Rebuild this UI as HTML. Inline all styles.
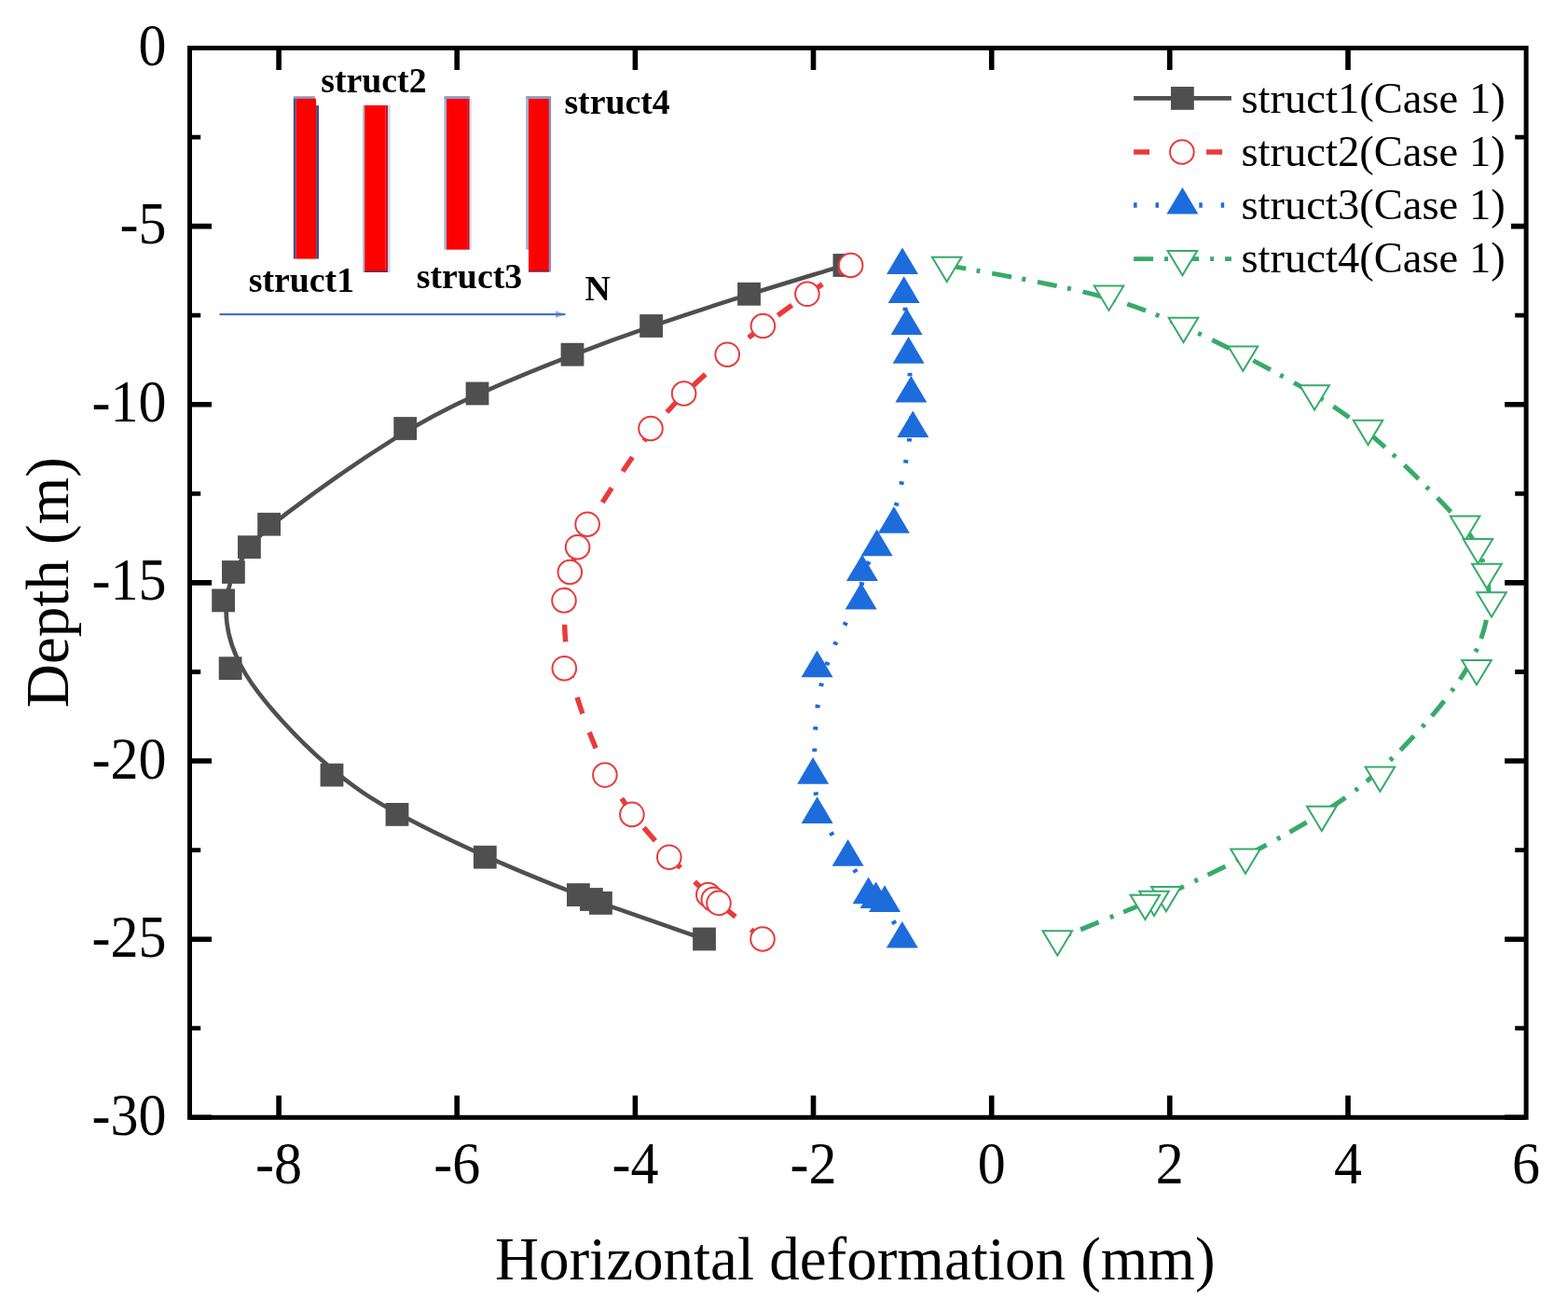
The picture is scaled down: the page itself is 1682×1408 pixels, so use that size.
<!DOCTYPE html><html><head><meta charset="utf-8"><title>Horizontal deformation vs depth</title><style>html,body{margin:0;padding:0;background:#fff}svg{display:block}text{font-family:"Liberation Serif","Times New Roman",serif}</style></head><body>
<svg width="1682" height="1408" viewBox="0 0 1682 1408">
<rect width="1682" height="1408" fill="#fff"/>
<g><rect x="314.8" y="103.2" width="23.2" height="2.8" fill="#8a9cc4"/><rect x="314.8" y="105.8" width="2.8" height="171.8" fill="#3c4f8c"/><rect x="317.5" y="105.8" width="21.6" height="171.8" fill="#ff0000"/><rect x="339.1" y="113.1" width="2.9" height="164.5" fill="#4a4a80"/><rect x="389.1" y="112.9" width="2.3" height="179" fill="#a8b8d8"/><rect x="391.2" y="112.9" width="22.5" height="179" fill="#ff0000"/><rect x="413.7" y="112.9" width="2.3" height="179" fill="#c81425"/><rect x="416" y="112.9" width="2.7" height="179" fill="#cdd6ea"/><rect x="391.2" y="289.9" width="24.8" height="2" fill="#8a2040"/><rect x="476.4" y="103.1" width="27.4" height="2.9" fill="#8a9cc4"/><rect x="476.4" y="106" width="2.6" height="161.7" fill="#9db0d4"/><rect x="479" y="106" width="22.1" height="161.7" fill="#ff0000"/><rect x="501.1" y="106" width="2.7" height="161.7" fill="#c81425"/><rect x="503.8" y="106" width="2.3" height="161.7" fill="#dde4f0"/><rect x="564.2" y="103.1" width="26.9" height="2.9" fill="#8a9cc4"/><rect x="564.2" y="106" width="2.8" height="161.7" fill="#9db0d4"/><rect x="567" y="106" width="21.9" height="185.5" fill="#ff0000"/><rect x="588.9" y="106" width="2.2" height="185.5" fill="#7f93c0"/><rect x="567" y="289.6" width="21.9" height="2" fill="#8a2040"/><rect x="235.5" y="336" width="371" height="2.2" fill="#4472c4"/><path d="M596 333.3L606 337.1L596 340.9Z" fill="#4472c4" opacity="0.55"/></g>
<text x="344.2" y="98.6" font-size="37.8" font-weight="bold" fill="#000">struct2</text>
<text x="605.4" y="121.8" font-size="37.8" font-weight="bold" fill="#000">struct4</text>
<text x="266.7" y="313.1" font-size="37.8" font-weight="bold" fill="#000">struct1</text>
<text x="446.8" y="308.9" font-size="37.8" font-weight="bold" fill="#000">struct3</text>
<text x="627.4" y="322" font-size="37.8" font-weight="bold" fill="#000">N</text>
<path d="M905.9 284.5C905.9 284.5 905.9 284.5 888.8 289.6C871.8 294.8 837.6 305 803.1 315.9C768.5 326.7 733.6 338.1 702 348.9C670.4 359.7 642.2 370 611.1 382.1C580 394.1 546 408.1 516.1 421.3C486.2 434.5 460.5 447 423.2 470.4C386 493.7 337.3 528 309.4 549.2C281.5 570.4 274.5 578.5 268.1 587.1C261.7 595.6 256.1 604.6 251.4 614.1C246.8 623.6 243.2 633.8 242.6 651C242.1 668.2 244.6 692.4 264 723.6C283.4 754.8 319.7 793 349.5 819.1C379.3 845.2 402.7 859.3 430.1 874C457.4 888.7 488.9 903.9 521.3 918.3C553.7 932.7 587 946.1 606 953.7C625.1 961.2 629.7 962.9 633.7 964.3C637.7 965.8 641.1 967.1 661.2 974.2C681.4 981.3 718.5 994.1 737 1000.6C755.5 1007 755.5 1007 755.5 1007" fill="none" stroke="#4f4f4f" stroke-width="4.6"/><g fill="#4f4f4f"><rect x="893.5" y="272.1" width="24.8" height="24.8"/><rect x="791.1" y="302.9" width="24.8" height="24.8"/><rect x="686.2" y="337.1" width="24.8" height="24.8"/><rect x="601.6" y="367.8" width="24.8" height="24.8"/><rect x="499.6" y="409.6" width="24.8" height="24.8"/><rect x="422.3" y="447.1" width="24.8" height="24.8"/><rect x="276.2" y="549.8" width="24.8" height="24.8"/><rect x="255" y="574.3" width="24.8" height="24.8"/><rect x="238" y="601.1" width="24.8" height="24.8"/><rect x="227.2" y="631.5" width="24.8" height="24.8"/><rect x="234.7" y="704.3" width="24.8" height="24.8"/><rect x="343.6" y="818.7" width="24.8" height="24.8"/><rect x="413.6" y="861" width="24.8" height="24.8"/><rect x="507.9" y="906.8" width="24.8" height="24.8"/><rect x="608" y="947.2" width="24.8" height="24.8"/><rect x="622" y="952.1" width="24.8" height="24.8"/><rect x="632" y="956" width="24.8" height="24.8"/><rect x="743.1" y="994.6" width="24.8" height="24.8"/></g>
<path d="M912.6 284.5C912.6 284.5 912.6 284.5 904.8 289.6C897 294.8 881.5 305 865.8 315.9C850.1 326.7 834.2 338.1 819.9 348.9C805.7 359.7 792.9 370 778.8 382.1C764.7 394.1 749.1 408.1 735.4 421.3C721.7 434.5 709.9 447 692.6 470.4C675.4 493.7 652.7 528 639.7 549.2C626.6 570.4 623.1 578.5 620 587.1C616.8 595.6 614.1 604.6 611.6 614.1C609.2 623.6 607.1 633.8 606.1 651C605.1 668.2 605.2 692.4 612.5 723.6C619.8 754.8 634.4 793 646.5 819.1C658.6 845.2 668.2 859.3 679.7 874C691.2 888.7 704.5 903.9 718.1 918.3C731.8 932.7 745.8 946.1 753.7 953.7C761.6 961.2 763.5 962.9 765.3 964.3C767.2 965.8 769.1 967.1 777.9 974.2C786.7 981.3 802.3 994.1 810.2 1000.6C818 1007 818 1007 818 1007" fill="none" stroke="#ea3a3c" stroke-width="5.5" stroke-dasharray="18.5 21.1" stroke-dashoffset="3"/><g fill="#fff" stroke="#ea3a3c" stroke-width="2"><circle cx="912.6" cy="284.5" r="12.8"/><circle cx="865.9" cy="315.3" r="12.8"/><circle cx="818.4" cy="349.5" r="12.8"/><circle cx="780.2" cy="380.2" r="12.8"/><circle cx="733.6" cy="422" r="12.8"/><circle cx="698" cy="459.5" r="12.8"/><circle cx="630.1" cy="562.2" r="12.8"/><circle cx="619.6" cy="586.7" r="12.8"/><circle cx="611.3" cy="613.5" r="12.8"/><circle cx="605" cy="643.9" r="12.8"/><circle cx="605.3" cy="716.7" r="12.8"/><circle cx="648.9" cy="831.1" r="12.8"/><circle cx="677.9" cy="873.4" r="12.8"/><circle cx="717.8" cy="919.2" r="12.8"/><circle cx="759.8" cy="959.6" r="12.8"/><circle cx="765.3" cy="964.5" r="12.8"/><circle cx="771" cy="968.4" r="12.8"/><circle cx="818" cy="1007" r="12.8"/></g>
<path d="M968 284.5C968 284.5 968 284.5 968.3 289.6C968.5 294.8 969.1 305 969.8 315.9C970.6 326.7 971.6 338.1 972.4 348.9C973.3 359.7 973.9 370 974.7 382.1C975.5 394.1 976.4 408.1 977.2 421.3C978 434.5 978.6 447 975.6 470.4C972.5 493.7 965.7 528 959.2 549.2C952.8 570.4 946.7 578.5 941 587.1C935.4 595.6 930.1 604.6 927.3 614.1C924.5 623.6 924 633.8 916 651C907.9 668.2 892.2 692.4 883.6 723.6C875 754.8 873.6 793 873.6 819.1C873.6 845.2 875.1 859.3 881.4 874C887.6 888.7 898.6 903.9 907.8 918.3C916.9 932.7 924.3 946.1 929.3 953.7C934.3 961.2 936.9 962.9 939.8 964.3C942.7 965.8 945.9 967.1 950.6 974.2C955.3 981.3 961.5 994.1 964.7 1000.6C967.8 1007 967.8 1007 967.8 1007" fill="none" stroke="#1d6cdc" stroke-width="5" stroke-dasharray="3.6 19.83" stroke-dashoffset="1.5"/><g fill="#1d6cdc"><path d="M968 265.4L985 294.1L951 294.1Z"/><path d="M969.6 296.2L986.6 324.9L952.6 324.9Z"/><path d="M972.6 330.4L989.6 359.1L955.6 359.1Z"/><path d="M974.6 361.1L991.6 389.8L957.6 389.8Z"/><path d="M977.3 402.9L994.3 431.6L960.3 431.6Z"/><path d="M979.3 440.4L996.3 469.1L962.3 469.1Z"/><path d="M958.9 543.1L975.9 571.8L941.9 571.8Z"/><path d="M940.6 567.6L957.6 596.3L923.6 596.3Z"/><path d="M924.9 594.4L941.9 623.1L907.9 623.1Z"/><path d="M923.6 624.8L940.6 653.5L906.6 653.5Z"/><path d="M876.5 697.6L893.5 726.3L859.5 726.3Z"/><path d="M872.1 812L889.1 840.7L855.1 840.7Z"/><path d="M876.6 854.3L893.6 883L859.6 883Z"/><path d="M909.6 900.1L926.6 928.8L892.6 928.8Z"/><path d="M931.6 940.5L948.6 969.2L914.6 969.2Z"/><path d="M939.6 945.4L956.6 974.1L922.6 974.1Z"/><path d="M949 949.3L966 978L932 978Z"/><path d="M967.8 987.9L984.8 1016.6L950.8 1016.6Z"/></g>
<path d="M1015.7 284.5C1015.7 284.5 1015.7 284.5 1044.7 289.6C1073.6 294.8 1131.6 305 1173.9 315.9C1216.2 326.7 1242.8 338.1 1266.8 348.9C1290.8 359.7 1312.1 370 1335.5 382.1C1359 394.1 1384.5 408.1 1406.9 421.3C1429.2 434.5 1448.4 447 1475.3 470.4C1502.2 493.7 1536.9 528 1556.5 549.2C1576.2 570.4 1580.8 578.5 1584.7 587.1C1588.6 595.6 1591.7 604.6 1594.2 614.1C1596.6 623.6 1598.3 633.8 1596.5 651C1594.7 668.2 1589.3 692.4 1569.4 723.6C1549.5 754.8 1514.9 793 1487.2 819.1C1459.5 845.2 1438.7 859.3 1414.6 874C1390.5 888.7 1363.3 903.9 1335.5 918.3C1307.6 932.7 1279.3 946.1 1262.9 953.7C1246.6 961.2 1242.3 962.9 1238.5 964.3C1234.8 965.8 1231.6 967.1 1214.3 974.2C1197 981.3 1165.7 994.1 1150 1000.6C1134.3 1007 1134.3 1007 1134.3 1007" fill="none" stroke="#36ab6a" stroke-width="5" stroke-dasharray="21 11.5 4 13" stroke-dashoffset="0"/><g fill="#fff" stroke="#36ab6a" stroke-width="2"><path d="M999.9 275.8L1031.5 275.8L1015.7 302.1Z"/><path d="M1173.7 306.6L1205.3 306.6L1189.5 332.9Z"/><path d="M1253.7 340.8L1285.3 340.8L1269.5 367.1Z"/><path d="M1317.6 371.5L1349.2 371.5L1333.4 397.8Z"/><path d="M1394.3 413.3L1425.9 413.3L1410.1 439.6Z"/><path d="M1451.7 450.8L1483.3 450.8L1467.5 477.1Z"/><path d="M1555.8 553.5L1587.4 553.5L1571.6 579.8Z"/><path d="M1569.6 578L1601.2 578L1585.4 604.3Z"/><path d="M1579.1 604.8L1610.7 604.8L1594.9 631.1Z"/><path d="M1584.2 635.2L1615.8 635.2L1600 661.5Z"/><path d="M1568.2 708L1599.8 708L1584 734.3Z"/><path d="M1464.6 822.4L1496.2 822.4L1480.4 848.7Z"/><path d="M1402 864.7L1433.6 864.7L1417.8 891Z"/><path d="M1320.2 910.5L1351.8 910.5L1336 936.8Z"/><path d="M1235.1 950.9L1266.7 950.9L1250.9 977.2Z"/><path d="M1222.2 955.8L1253.8 955.8L1238 982.1Z"/><path d="M1212.6 959.7L1244.2 959.7L1228.4 986Z"/><path d="M1118.5 998.3L1150.1 998.3L1134.3 1024.6Z"/></g>
<rect x="203.5" y="51.5" width="1433.6" height="1146.8" fill="none" stroke="#000" stroke-width="5"/><path d="M299.1 1198.3v-23.5M299.1 51.5v23.5M490.2 1198.3v-23.5M490.2 51.5v23.5M681.4 1198.3v-23.5M681.4 51.5v23.5M872.5 1198.3v-23.5M872.5 51.5v23.5M1063.7 1198.3v-23.5M1063.7 51.5v23.5M1254.8 1198.3v-23.5M1254.8 51.5v23.5M1446 1198.3v-23.5M1446 51.5v23.5M203.5 242.6h23.5M1637.1 242.6h-23M203.5 433.8h23.5M1637.1 433.8h-23M203.5 624.9h23.5M1637.1 624.9h-23M203.5 816h23.5M1637.1 816h-23M203.5 1007.2h23.5M1637.1 1007.2h-23M203.5 1198.3h23.5M1637.1 1198.3h-23" stroke="#000" stroke-width="5.6" fill="none"/><path d="M203.5 147.1h11.7M1637.1 147.1h-11.9M203.5 338.2h11.7M1637.1 338.2h-11.9M203.5 529.3h11.7M1637.1 529.3h-11.9M203.5 720.5h11.7M1637.1 720.5h-11.9M203.5 911.6h11.7M1637.1 911.6h-11.9M203.5 1102.7h11.7M1637.1 1102.7h-11.9" stroke="#000" stroke-width="4.8" fill="none"/>
<rect x="1200" y="76" width="421" height="226" fill="#fff"/><line x1="1216.1" y1="105.4" x2="1320.9" y2="105.4" stroke="#4f4f4f" stroke-width="4.8"/><line x1="1216.1" y1="163.0" x2="1320.9" y2="163.0" stroke="#ea3a3c" stroke-width="5.7" stroke-dasharray="17 22"/><line x1="1216.1" y1="220.0" x2="1320.9" y2="220.0" stroke="#1d6cdc" stroke-width="5.7" stroke-dasharray="3.5 19.9"/><line x1="1216.1" y1="277.6" x2="1320.9" y2="277.6" stroke="#36ab6a" stroke-width="4.8" stroke-dasharray="21 12 4 12"/><g fill="#4f4f4f"><rect x="1256" y="93" width="24.8" height="24.8"/></g><g fill="#fff" stroke="#ea3a3c" stroke-width="2"><circle cx="1267.9" cy="163" r="12.8"/></g><g fill="#1d6cdc"><path d="M1268.4 200.9L1285.4 229.6L1251.4 229.6Z"/></g><g fill="#fff" stroke="#36ab6a" stroke-width="2"><path d="M1252.6 268.9L1284.2 268.9L1268.4 295.2Z"/></g><text transform="translate(1331.4 121) scale(1 1.01)" font-size="46.6" fill="#000">struct1(Case 1)</text><text transform="translate(1331.4 178) scale(1 1.01)" font-size="46.6" fill="#000">struct2(Case 1)</text><text transform="translate(1331.4 235) scale(1 1.01)" font-size="46.6" fill="#000">struct3(Case 1)</text><text transform="translate(1331.4 292) scale(1 1.01)" font-size="46.6" fill="#000">struct4(Case 1)</text>
<g fill="#000"><text transform="translate(178.4 70) scale(1 1.05)" text-anchor="end" font-size="60">0</text><text transform="translate(178.4 261.1) scale(1 1.05)" text-anchor="end" font-size="60">-5</text><text transform="translate(178.4 452.3) scale(1 1.05)" text-anchor="end" font-size="60">-10</text><text transform="translate(178.4 643.4) scale(1 1.05)" text-anchor="end" font-size="60">-15</text><text transform="translate(178.4 834.5) scale(1 1.05)" text-anchor="end" font-size="60">-20</text><text transform="translate(178.4 1025.7) scale(1 1.05)" text-anchor="end" font-size="60">-25</text><text transform="translate(178.4 1216.8) scale(1 1.05)" text-anchor="end" font-size="60">-30</text><text transform="translate(299.1 1269) scale(1 1.05)" text-anchor="middle" font-size="60">-8</text><text transform="translate(490.2 1269) scale(1 1.05)" text-anchor="middle" font-size="60">-6</text><text transform="translate(681.4 1269) scale(1 1.05)" text-anchor="middle" font-size="60">-4</text><text transform="translate(872.5 1269) scale(1 1.05)" text-anchor="middle" font-size="60">-2</text><text transform="translate(1063.7 1269) scale(1 1.05)" text-anchor="middle" font-size="60">0</text><text transform="translate(1254.8 1269) scale(1 1.05)" text-anchor="middle" font-size="60">2</text><text transform="translate(1446 1269) scale(1 1.05)" text-anchor="middle" font-size="60">4</text><text transform="translate(1637.1 1269) scale(1 1.05)" text-anchor="middle" font-size="60">6</text></g>
<text x="531" y="1372" font-size="65" fill="#000">Horizontal deformation (mm)</text>
<text transform="translate(72.6 759) rotate(-90)" font-size="65" fill="#000">Depth (m)</text>
</svg></body></html>
